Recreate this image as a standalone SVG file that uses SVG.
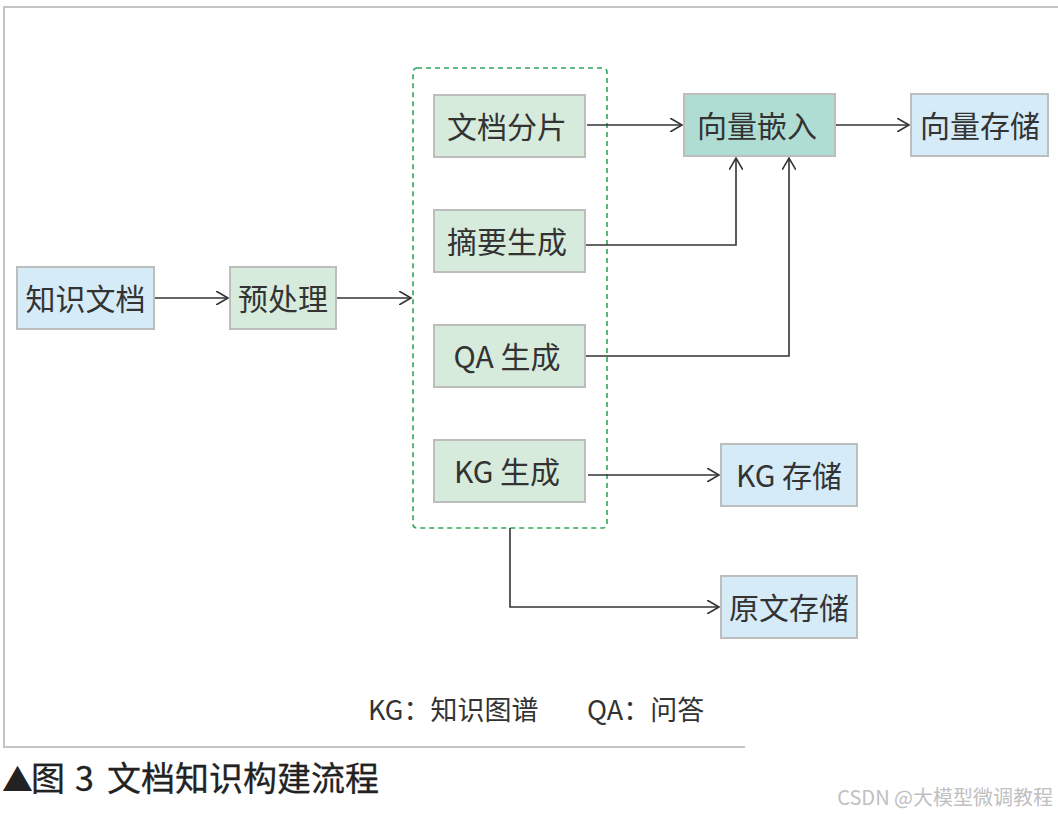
<svg xmlns="http://www.w3.org/2000/svg" width="1058" height="814" viewBox="0 0 1058 814">
<defs>
<style>
.box{stroke:#bdbdbd;stroke-width:2}
.g{fill:#d6ebdc}
.b{fill:#d5ebf8}
.t{fill:#b0ddd3}
.lbl{font-family:"Noto Sans CJK SC","Noto Sans",sans-serif;font-size:30px;fill:#333;text-anchor:middle;dominant-baseline:central}
.edge{fill:none;stroke:#333;stroke-width:1.6}
</style>
<marker id="arr" markerWidth="14" markerHeight="14" refX="12" refY="7" orient="auto" markerUnits="userSpaceOnUse">
<path d="M0,0 L12,7 L0,14" fill="none" stroke="#333" stroke-width="1.6"/>
</marker>
</defs>
<rect width="1058" height="814" fill="#fff"/>
<g id="frame" fill="none" stroke="#c4c4c4" stroke-width="2">
<path d="M1058,7 H4 V747 H745"/>
</g>
<g id="group-box">
<rect x="413" y="68" width="194" height="460" rx="4" fill="none" stroke="#2ea65e" stroke-width="1.6" stroke-dasharray="5,4"/>
</g>
<g id="connectors">
<path class="edge" d="M155,298 H228" marker-end="url(#arr)"/>
<path class="edge" d="M337,298 H411" marker-end="url(#arr)"/>
<path class="edge" d="M587,125 H682" marker-end="url(#arr)"/>
<path class="edge" d="M836,125 H909" marker-end="url(#arr)"/>
<path class="edge" d="M586,245 H736 V158" marker-end="url(#arr)"/>
<path class="edge" d="M586,356 H789 V158" marker-end="url(#arr)"/>
<path class="edge" d="M588,475 H719" marker-end="url(#arr)"/>
<path class="edge" d="M510,528 V607 H719" marker-end="url(#arr)"/>
</g>
<g id="n-doc"><rect class="box b" x="17" y="267" width="137" height="62"/><text class="lbl" x="85.5" y="297">知识文档</text></g>
<g id="n-pre"><rect class="box g" x="230" y="267" width="106" height="62"/><text class="lbl" x="283" y="297">预处理</text></g>
<g id="n-chunk"><rect class="box g" x="434" y="95" width="151" height="62"/><text class="lbl" x="507" y="125">文档分片</text></g>
<g id="n-sum"><rect class="box g" x="434" y="210" width="151" height="62"/><text class="lbl" x="507" y="240">摘要生成</text></g>
<g id="n-qa"><rect class="box g" x="434" y="325" width="151" height="62"/><text class="lbl" x="507" y="355">QA 生成</text></g>
<g id="n-kg"><rect class="box g" x="434" y="440" width="151" height="62"/><text class="lbl" x="507" y="470">KG 生成</text></g>
<g id="n-embed"><rect class="box t" x="684" y="94" width="151" height="62"/><text class="lbl" x="757" y="124">向量嵌入</text></g>
<g id="n-vstore"><rect class="box b" x="911" y="94" width="137" height="62"/><text class="lbl" x="980" y="124">向量存储</text></g>
<g id="n-kgstore"><rect class="box b" x="721" y="444" width="136" height="62"/><text class="lbl" x="789" y="474">KG 存储</text></g>
<g id="n-raw"><rect class="box b" x="721" y="576" width="136" height="62"/><text class="lbl" x="789" y="606">原文存储</text></g>
<g id="legend" font-family="'Noto Sans CJK SC','Noto Sans',sans-serif" font-size="27" fill="#333">
<text x="368" y="720">KG：知识图谱</text>
<text x="587" y="720">QA：问答</text>
</g>
<g id="caption" font-family="'Noto Sans CJK SC',sans-serif" fill="#222">
<text x="2" y="791" font-size="31">▲</text>
<text y="791" font-size="34" stroke="#222" stroke-width="0.3"><tspan x="31">图</tspan><tspan x="75">3</tspan><tspan x="107">文档知识构建流程</tspan></text>
<text x="1053" y="805" text-anchor="end" font-size="20" fill="#c0c0c0">CSDN @大模型微调教程</text>
</g>
</svg>
